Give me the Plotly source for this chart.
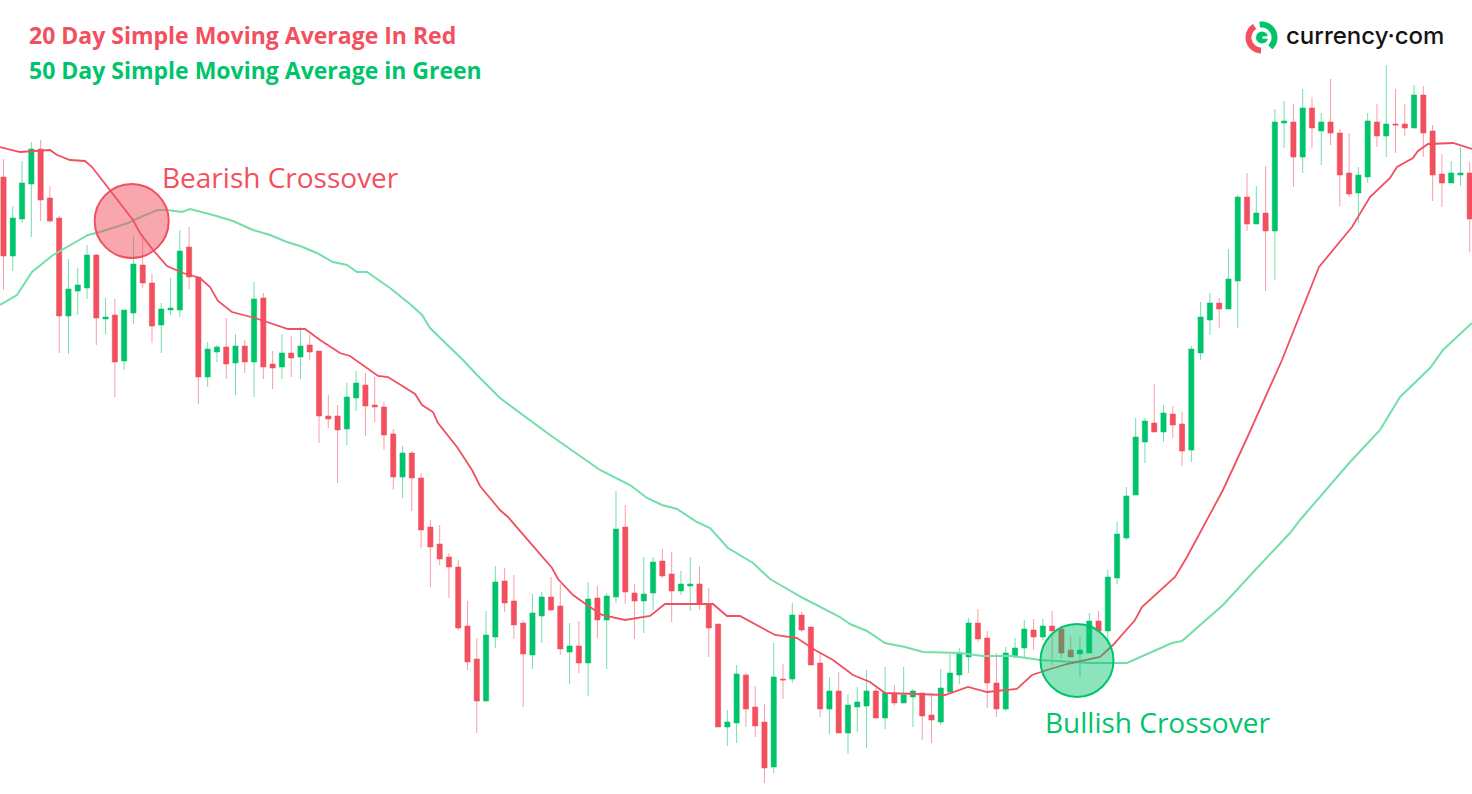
import numpy as np
import plotly.graph_objects as go

# ---------------- data (price units) ----------------
open_ = [623, 544, 581, 616, 651, 602, 582, 484, 509, 512, 545, 481, 485, 439, 487, 535, 517, 475, 490, 490,
         553, 523, 423, 448, 453, 437, 454, 438, 502, 436, 433, 447, 443, 455, 449, 384, 384, 371, 402, 415,
         395, 393, 366, 323, 347, 322, 273, 256, 243, 233, 174, 141, 99, 163, 219, 199, 177, 145, 184, 203,
         194, 148, 154, 137, 202, 180, 203, 273, 207, 199, 207, 239, 226, 209, 214, 216, 196, 176, 73, 77,
         125, 93, 78, 33, 121, 121, 185, 173, 137, 91, 109, 67, 93, 94, 109, 82, 107, 97, 103, 107,
         85, 78, 108, 125, 143, 177, 162, 117, 91, 143, 152, 170, 163, 174, 171, 150, 146, 147, 179, 169,
         222, 262, 305, 358, 377, 368, 386, 376, 350, 447, 480, 497, 491, 519, 603, 576, 587, 569, 677, 678,
         643, 692, 669, 678, 667, 627, 607, 623, 678, 664, 676, 676, 672, 705, 669, 626, 617, 625, 627]
high = [641, 594, 639, 658, 660, 614, 584, 541, 532, 555, 546, 502, 501, 490, 564, 563, 526, 497, 522, 570,
        573, 523, 458, 455, 482, 466, 460, 518, 507, 449, 466, 464, 473, 465, 449, 405, 395, 417, 429, 427,
        423, 398, 371, 354, 349, 327, 280, 275, 247, 240, 199, 162, 189, 234, 232, 225, 180, 206, 208, 223,
        216, 177, 179, 218, 214, 207, 309, 295, 216, 243, 243, 251, 248, 229, 243, 234, 212, 176, 90, 135,
        127, 114, 96, 157, 136, 197, 188, 173, 148, 123, 128, 106, 113, 130, 112, 133, 115, 133, 111, 107,
        107, 131, 146, 152, 182, 191, 169, 147, 153, 162, 180, 181, 181, 189, 174, 164, 163, 187, 189, 230,
        278, 313, 382, 382, 416, 395, 394, 388, 454, 498, 507, 502, 551, 605, 627, 614, 634, 691, 699, 696,
        711, 703, 687, 721, 671, 667, 633, 687, 696, 735, 711, 696, 715, 714, 675, 646, 639, 653, 638]
low = [510, 529, 577, 563, 579, 577, 447, 446, 485, 501, 455, 466, 403, 430, 476, 512, 457, 447, 485, 483,
       511, 396, 413, 438, 421, 405, 427, 403, 421, 411, 421, 423, 421, 440, 357, 372, 317, 355, 389, 364,
       378, 350, 310, 302, 289, 252, 213, 235, 202, 170, 130, 67, 99, 152, 188, 161, 93, 131, 157, 189,
       145, 116, 127, 104, 162, 131, 197, 196, 161, 167, 190, 222, 178, 205, 189, 190, 143, 73, 54, 57,
       73, 63, 17, 27, 101, 117, 168, 135, 83, 66, 67, 46, 68, 52, 82, 71, 94, 97, 73, 60,
       57, 75, 108, 116, 127, 158, 92, 83, 89, 142, 142, 150, 160, 135, 142, 143, 123, 147, 168, 156,
       216, 260, 305, 337, 368, 358, 362, 334, 338, 440, 465, 472, 491, 472, 569, 576, 509, 520, 652, 613,
       627, 652, 635, 655, 594, 603, 577, 617, 653, 643, 647, 664, 672, 643, 599, 593, 617, 614, 548]
close = [544, 582, 617, 651, 600, 579, 484, 511, 515, 545, 482, 483, 438, 490, 536, 517, 474, 491, 492, 549,
         523, 423, 451, 453, 436, 454, 438, 501, 433, 432, 447, 442, 454, 448, 384, 381, 370, 403, 417, 394,
         393, 365, 323, 347, 322, 270, 253, 241, 233, 172, 138, 99, 165, 218, 197, 175, 146, 187, 203, 190,
         151, 154, 137, 201, 180, 204, 271, 208, 199, 206, 238, 224, 209, 216, 216, 196, 172, 73, 78, 126,
         91, 74, 32, 123, 120, 185, 170, 135, 91, 109, 67, 95, 98, 109, 82, 107, 97, 105, 109, 84,
         80, 112, 127, 147, 177, 161, 117, 91, 147, 152, 171, 163, 174, 169, 147, 143, 150, 179, 169, 223,
         266, 304, 363, 379, 368, 387, 375, 349, 451, 483, 497, 491, 521, 603, 576, 587, 569, 678, 679, 643,
         692, 672, 678, 667, 625, 606, 625, 679, 664, 676, 675, 672, 705, 667, 625, 617, 627, 627, 581]
day = list(range(len(open_)))

# 20-day SMA: position in days, value
ma20_x = [-0.38, 1.78, 5.01, 5.77, 7.17, 8.78, 9.54, 11.48, 13.95, 14.71, 16.11, 17.62, 19.34, 21.17, 22.25,
          23.11, 24.62, 27.10, 28.40, 30.66, 32.49, 34.11, 36.26, 37.34, 40.36, 41.43, 44.35, 45.10, 46.28,
          46.82, 48.87, 50.49, 51.35, 53.50, 54.36, 56.74, 59.11, 59.75, 61.37, 62.88, 64.49, 66.97, 69.67,
          71.28, 76.45, 77.96, 79.36, 83.14, 85.51, 87.45, 89.39, 91.54, 93.37, 94.99, 97.36, 101.45, 103.93,
          105.98, 109.21, 110.83, 112.45, 114.60, 118.16, 119.56, 121.93, 122.68, 126.24, 127.53, 131.41,
          134.00, 137.77, 141.76, 145.31, 147.25, 149.41, 150.16, 151.88, 152.42, 153.50, 156.20, 158.24]
ma20_y = [653, 648, 650, 645, 640, 639, 633, 610, 580, 567, 550, 534, 527, 522, 513,
          499, 488, 482, 478, 471, 471, 460, 447, 444, 424, 423, 406, 395, 388,
          377, 353, 330, 314, 290, 283, 258, 232, 221, 205, 195, 185, 180, 184,
          196, 196, 184, 184, 165, 162, 150, 140, 125, 118, 107, 106, 105, 113,
          108, 111, 125, 130, 136, 143, 155, 180, 193, 223, 243, 310,
          362, 440, 533, 573, 603, 622, 633, 642, 649, 656, 657, 651]

# 50-day SMA
ma50_x = [-0.38, 1.45, 3.07, 5.33, 6.84, 9.11, 10.40, 13.42, 15.03, 16.65, 17.62, 19.23, 20.10, 22.58, 24.73,
          26.88, 28.72, 30.55, 31.95, 33.78, 35.51, 37.02, 38.09, 39.17, 41.65, 43.80, 45.10, 45.96, 49.51,
          51.02, 53.50, 58.89, 64.28, 66.43, 67.51, 69.34, 70.96, 72.58, 74.73, 76.13, 78.07, 80.77, 82.60,
          86.15, 90.14, 91.22, 93.05, 94.99, 97.15, 99.08, 103.07, 105.55, 108.78, 111.69, 117.08, 121.06,
          125.91, 126.99, 131.41, 135.08, 138.63, 139.71, 145.10, 148.33, 150.49, 153.72, 155.12, 158.24]
ma50_y = [495, 505, 528, 545, 553, 565, 568, 577, 584, 590, 590, 588, 591, 585, 579,
          570, 565, 558, 554, 547, 538, 535, 528, 528, 512, 496, 485, 472, 440,
          425, 402, 365, 330, 320, 315, 302, 295, 291, 278, 272, 252, 237, 221,
          202, 183, 176, 169, 157, 153, 148, 147, 144, 144, 140, 137, 137,
          157, 159, 195, 232, 267, 280, 338, 370, 403, 432, 450, 477]

title_20 = "20 Day Simple Moving Average In Red"
title_50 = "50 Day Simple Moving Average in Green"
label_bear = "Bearish Crossover"
label_bull = "Bullish Crossover"
brand = "currency·com"

# ---------------- style ----------------
RED = "#F2505E"
GREEN = "#00C46B"
RED_WICK = "rgba(242,80,94,0.55)"
GREEN_WICK = "rgba(0,196,107,0.55)"
MA_RED = "#F0505F"
MA_GREEN = "#74DEAA"
W, H = 1472, 794


def px(x):
    return x / W


def py(y):
    return 1 - y / H


fig = go.Figure()
fig.add_trace(go.Candlestick(
    x=day, open=open_, high=high, low=low, close=close,
    increasing=dict(line=dict(color=GREEN_WICK, width=1), fillcolor=GREEN),
    decreasing=dict(line=dict(color=RED_WICK, width=1), fillcolor=RED),
    whiskerwidth=0, showlegend=False, hoverinfo="skip"))
fig.add_trace(go.Scatter(x=ma50_x, y=ma50_y, mode="lines",
                         line=dict(color=MA_GREEN, width=2), showlegend=False, hoverinfo="skip"))
fig.add_trace(go.Scatter(x=ma20_x, y=ma20_y, mode="lines",
                         line=dict(color=MA_RED, width=1.8), showlegend=False, hoverinfo="skip"))

shapes = []
# crossover circles (pixel geometry)
for (cx, cy, r, fill, col) in [(131.7, 221, 37, "rgba(242,80,94,0.5)", RED),
                               (1077, 660.5, 36.5, "rgba(0,196,107,0.45)", GREEN)]:
    shapes.append(dict(type="circle", xref="paper", yref="paper",
                       x0=px(cx - r), x1=px(cx + r), y0=py(cy + r), y1=py(cy - r),
                       fillcolor=fill, line=dict(color=col, width=2), layer="above"))

# logo icon
lcx, lcy, lr = 1261.5, 37.5, 13


def arc(a0, a1):
    a = np.radians(np.linspace(a0, a1, 40))
    xs = lcx + lr * np.cos(a)
    ys = lcy - lr * np.sin(a)
    return "M " + " L ".join(f"{px(x):.6f},{py(y):.6f}" for x, y in zip(xs, ys))


shapes.append(dict(type="path", xref="paper", yref="paper", path=arc(122, 268),
                   line=dict(color=RED, width=6)))
shapes.append(dict(type="path", xref="paper", yref="paper", path=arc(-48, 98),
                   line=dict(color=GREEN, width=6)))
shapes.append(dict(type="circle", xref="paper", yref="paper",
                   x0=px(lcx - 5.5), x1=px(lcx + 6.5), y0=py(lcy + 6), y1=py(lcy - 6),
                   fillcolor=GREEN, line=dict(width=0)))
shapes.append(dict(type="rect", xref="paper", yref="paper",
                   x0=px(lcx + 1), x1=px(lcx + 8), y0=py(lcy + 1.2), y1=py(lcy - 1.2),
                   fillcolor="white", line=dict(width=0)))

FONT = "Open Sans"
annotations = [
    dict(x=px(27), y=py(35), text=title_20, font=dict(family=FONT, size=23, color=RED, weight="bold")),
    dict(x=px(27), y=py(70), text=title_50, font=dict(family=FONT, size=23, color=GREEN, weight="bold")),
    dict(x=px(160), y=py(177), text=label_bear, font=dict(family=FONT, size=28, color=RED)),
    dict(x=px(1043), y=py(722), text=label_bull, font=dict(family=FONT, size=28, color=GREEN)),
    dict(x=px(1284), y=py(36), text=brand, font=dict(family="Inter", size=24, color="#141414", weight=500)),
]
for a in annotations:
    a.update(xref="paper", yref="paper", xanchor="left", yanchor="middle", showarrow=False)

fig.update_layout(
    width=W, height=H, autosize=False,
    margin=dict(l=0, r=0, t=0, b=0, pad=0),
    paper_bgcolor="white", plot_bgcolor="white",
    xaxis=dict(range=[-3.5 / 9.28, -3.5 / 9.28 + W / 9.28], visible=False,
               rangeslider=dict(visible=False), fixedrange=True),
    yaxis=dict(range=[6, 800], visible=False, fixedrange=True),
    shapes=shapes, annotations=annotations,
    boxgap=0.2,
)

fig.write_html("out.html", config={"displayModeBar": False},
               post_script="document.body.style.margin='0px';")
